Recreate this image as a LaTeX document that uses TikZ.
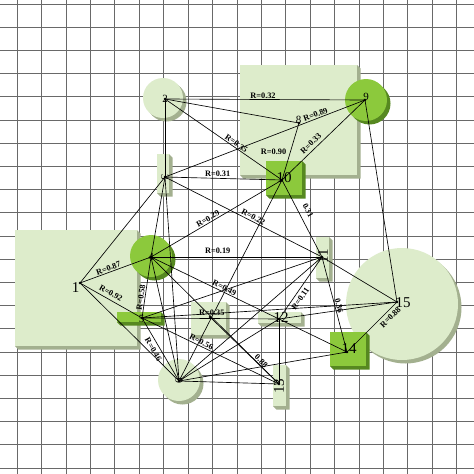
\documentclass[tikz,border=0pt]{standalone}
\usepackage{fontspec}
\setmainfont{Liberation Serif}
\usetikzlibrary{calc}

\definecolor{paleleaf}{RGB}{221,236,203}
\definecolor{paleshade}{RGB}{163,176,143}
\definecolor{leaf}{RGB}{140,201,60}
\definecolor{leafshade}{RGB}{86,136,32}
\definecolor{gridgray}{RGB}{105,105,105}

\tikzset{
  gridline/.style={gridgray, line width=0.9pt},
  link/.style={black, line width=0.65pt},
  rtag/.style={font=\fontsize{8.3}{9}\selectfont\bfseries, inner sep=1pt},
  bignum/.style={font=\fontsize{15}{15}\selectfont, inner sep=0pt},
  smallnum/.style={font=\fontsize{11}{11}\selectfont, inner sep=0pt},
}

% box or disc with its side face: fill, shade, corner/centre, corner/radius
\newcommand\shadebox[4]{%
  \fill[#2] let \p1=#3, \p2=#4 in
    (\x2,\y1) -- ($(\x2,\y1)+(3.5,3.5)$) -- ($(\x2,\y2)+(3.5,3.5)$)
    -- ($(\x1,\y2)+(3.5,3.5)$) -- (\x1,\y2) -- cycle;
  \fill[#1] #3 rectangle #4;
}
\newcommand\shadedisc[4]{%
  \fill[#2] ($#3+(3.5,3.5)$) circle (#4);
  \fill[#1] #3 circle (#4);
}

\begin{document}
\begin{tikzpicture}[x=1pt,y=-1pt]
\useasboundingbox (0,0) rectangle (474,474);
\fill[white] (0,0) rectangle (474,474);

%grid
\foreach \i in {0,...,18}
  \draw[gridline] ({17.3+24.41*\i},0) -- ({17.3+24.41*\i},474);
\foreach \j in {0,...,20}
  \draw[gridline] (0,{4+23.2*\j}) -- (474,{4+23.2*\j});

%node shapes
\shadebox{paleleaf}{paleshade}{(15,230)}{(137,346)}
\shadebox{paleleaf}{paleshade}{(240,65)}{(357,175)}
\shadedisc{paleleaf}{paleshade}{(402,304)}{56}
\shadedisc{paleleaf}{paleshade}{(163,98)}{20}
\shadebox{paleleaf}{paleshade}{(157,154)}{(169,193)}
\shadedisc{leaf}{leafshade}{(151,256)}{21}
\shadebox{leaf}{leafshade}{(117,312)}{(161,322)}
\shadedisc{paleleaf}{paleshade}{(179,380)}{21}
\shadebox{paleleaf}{paleshade}{(191,302)}{(226,335)}
\shadedisc{leaf}{leafshade}{(366,100)}{21}
\shadebox{leaf}{leafshade}{(266,161)}{(302,195)}
\shadebox{paleleaf}{paleshade}{(316,237)}{(329,278)}
\shadebox{paleleaf}{paleshade}{(258,312)}{(301,323)}
\shadebox{paleleaf}{paleshade}{(273,365)}{(286,406)}
\shadebox{leaf}{leafshade}{(330,332)}{(366,366)}

%centres
\foreach \n/\x/\y in {1/80/283, 2/165/99, 3/165/177, 4/151/257, 5/142/318,
  6/179/381, 7/210/317, 8/299/123, 9/365/100, 10/282/180, 11/322/257,
  12/279/319, 13/279/384, 14/347/352, 15/397/302}
  \coordinate (n\n) at (\x,\y);

%plain links
\foreach \a/\b in {1/3,1/6,2/3,2/8,3/4,3/6,4/6,4/13,5/11,5/15,6/10,
  6/11,6/12,6/13,6/14,9/15,11/15,12/13,12/14,12/15}
  \draw[link] (n\a) -- (n\b);

%links with values
\draw[link] (n2) -- (n9) node[rtag, pos=0.49, above] {R=0.32};
\draw[link] (n2) -- (n10) node[rtag, pos=0.59, sloped, above] {R=0.35};
\draw[link] (n3) -- (n9) node[rtag, pos=0.76, sloped, above] {R=0.89};
\draw[link] (n8) -- (n10) node[rtag, pos=0.5, left=3pt] {R=0.90};
\draw[link] (n10) -- (n9) node[rtag, pos=0.4, sloped, above=2pt] {R=0.33};
\draw[link] (n3) -- (n10) node[rtag, pos=0.45, above] {R=0.31};
\draw[link] (n3) -- (n11) node[rtag, pos=0.55, sloped, above] {R=0.22};
\draw[link] (n4) -- (n10) node[rtag, pos=0.45, sloped, above] {R=0.29};
\draw[link] (n4) -- (n11) node[rtag, pos=0.39, above=2pt] {R=0.19};
\draw[link] (n1) -- (n4) node[rtag, pos=0.42, sloped, above] {R=0.87};
\draw[link] (n1) -- (n5) node[rtag, pos=0.45, sloped, above=2pt] {R=0.92};
\draw[link] (n5) -- (n4) node[rtag, pos=0.33, sloped, above] {R=0.58};
\draw[link] (n5) -- (n6) node[rtag, pos=0.45, sloped, below=2pt] {R=0.46};
\draw[link] (n5) -- (n12) node[rtag, pos=0.51, above=2pt] {R=0.35};
\draw[link] (n5) -- (n13) node[rtag, pos=0.42, sloped, above] {R=0.56};
\draw[link] (n4) -- (n12) node[rtag, pos=0.56, sloped, above] {R=0.49};
\draw[link] (n12) -- (n11) node[rtag, pos=0.38, sloped, below=2pt] {R=0.11};
\draw[link] (n11) -- (n14) node[rtag, pos=0.52, sloped, above] {0.36};
\draw[link] (n10) -- (n11) node[rtag, pos=0.45, sloped, above=5pt] {0.31};
\draw[link] (n14) -- (n15) node[rtag, pos=0.78, sloped, below=2pt] {R=0.88};
\draw[link] (n7) -- (n13) node[rtag, pos=0.7, sloped, above] {0.88};

%centre dots
\foreach \n in {1,...,15}
  \fill (n\n) circle (1.3);

%numbers
\node[bignum] (t1) at (75.5,288) {1};
\node[smallnum] (t2) at (165,99) {2};
\node[smallnum, rotate=-90] (t3) at (165,177) {3};
\node[smallnum] (t4) at (151,257) {4};
\node[smallnum] (t5) at (141.5,319) {5};
\node[smallnum, rotate=90] (t6) at (179,381) {6};
\node[smallnum] (t8) at (298.5,120) {8};
\node[smallnum] (t9) at (366,97) {9};
\node[bignum] (t10) at (284,178) {10};
\node[bignum, rotate=90] (t11) at (323,256) {11};
\node[bignum] (t12) at (281,318) {12};
\node[bignum, rotate=90] (t13) at (279,386) {13};
\node[bignum] (t14) at (349,349) {14};
\node[bignum] (t15) at (403,303) {15};
\end{tikzpicture}
\end{document}
